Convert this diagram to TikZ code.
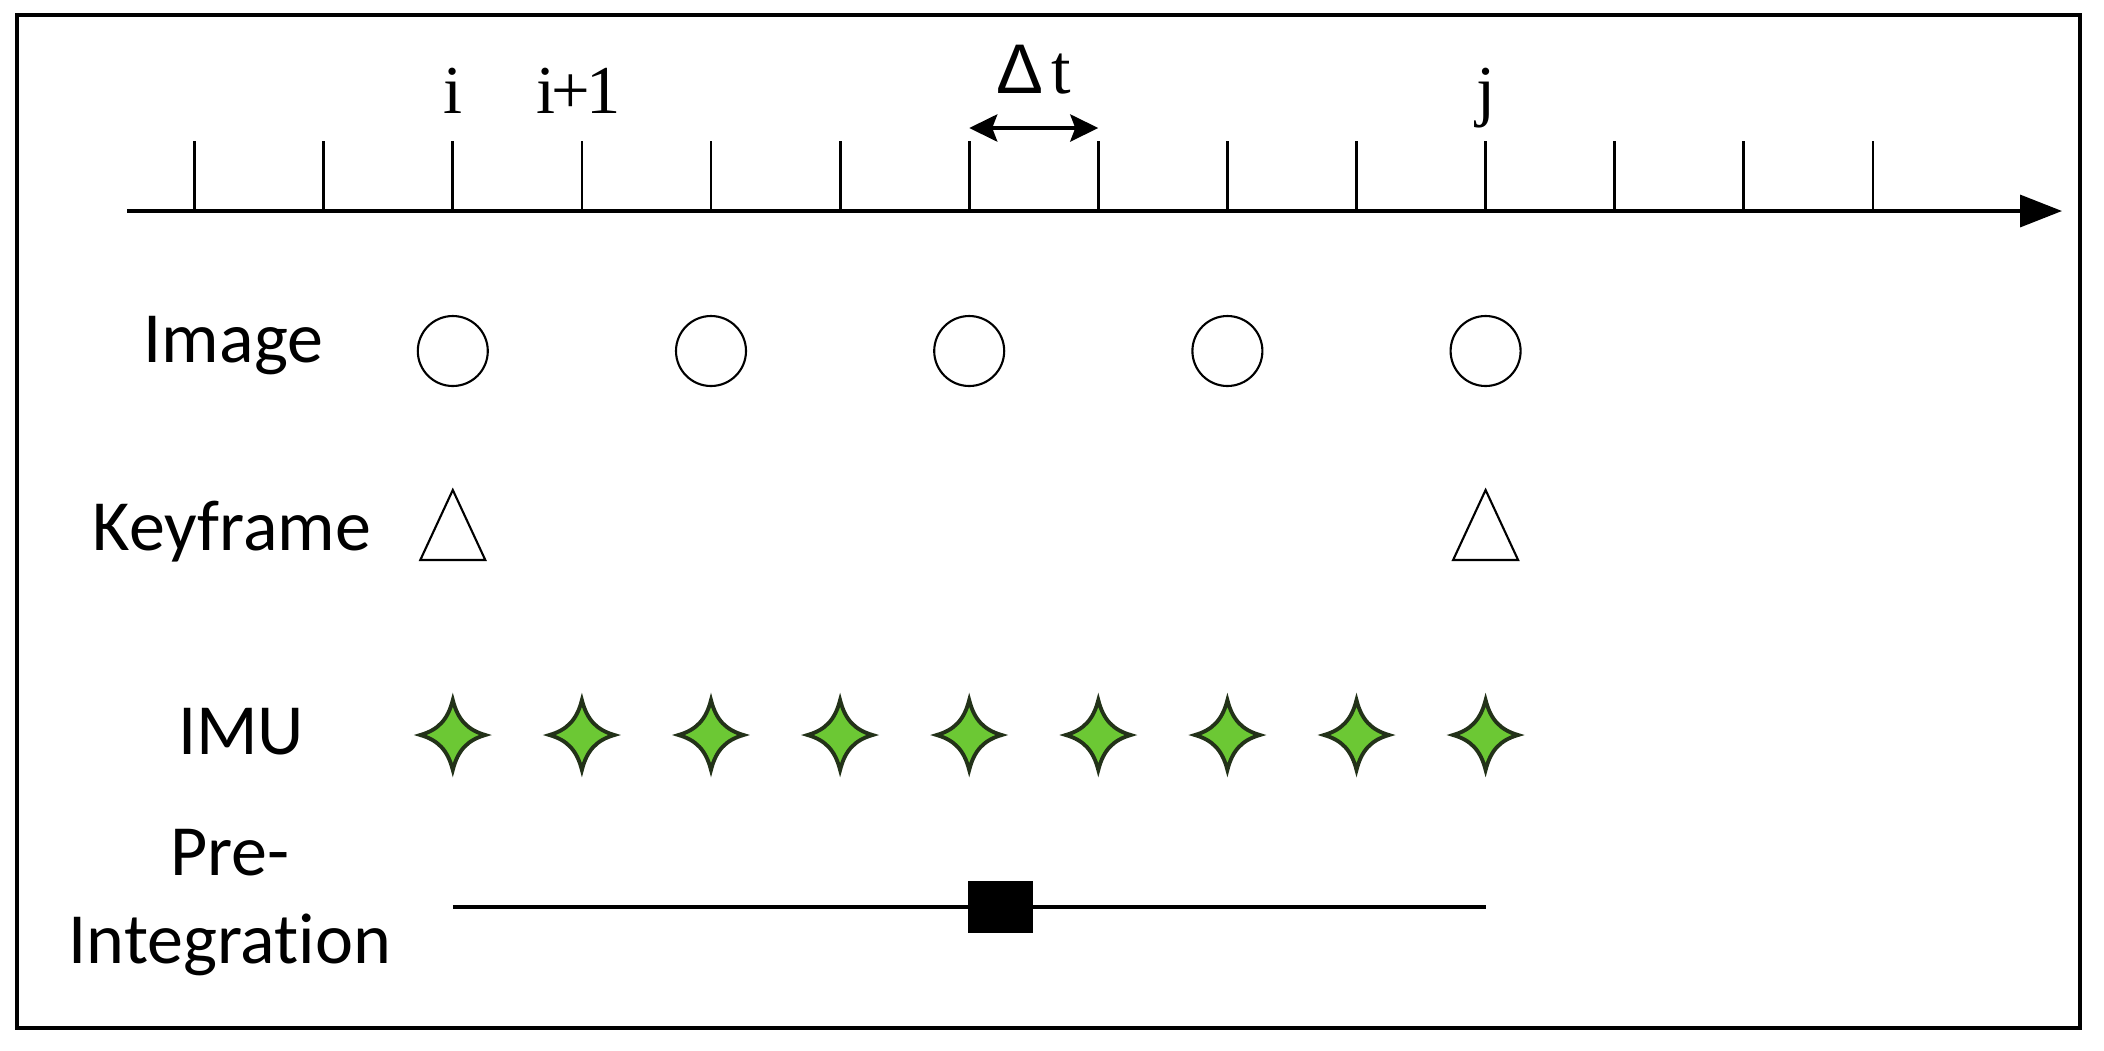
\documentclass[tikz,border=0pt]{standalone}
\usepackage{fontspec}
\setmainfont{Liberation Serif}
\newfontfamily\lblfont[Ligatures=NoCommon]{Carlito}
\newfontfamily\dtfont{Liberation Sans}
\usepackage{tikz}
\usetikzlibrary{arrows.meta, positioning}
\definecolor{imugreen}{RGB}{108,200,52}
\definecolor{imuedge}{RGB}{35,50,25}
\tikzset{>=stealth}
\tikzset{
  rowlabel/.style={font=\lblfont\fontsize{20.5}{24}\selectfont, anchor=base, inner sep=0pt},
  ticklabel/.style={font=\fontsize{19.5}{23}\selectfont, anchor=base, inner sep=0pt},
  tickln/.style={line width=0.8pt},
  imgcirc/.style={circle, draw, line width=0.6pt, minimum size=0.70cm, inner sep=0pt},
  keytri/.style={draw, line width=0.6pt, line join=miter},
  imustar/.pic={\draw[fill=imugreen, draw=imuedge, line width=1.1pt] (0,0.35) .. controls (0.05,0.15) and (0.15,0.05) .. (0.325,0) .. controls (0.15,-0.05) and (0.05,-0.15) .. (0,-0.35) .. controls (-0.05,-0.15) and (-0.15,-0.05) .. (-0.325,0) .. controls (-0.15,0.05) and (-0.05,0.15) .. cycle;},
}

\begin{document}
\begin{tikzpicture}[>=stealth]
        \useasboundingbox (0,0) rectangle (21.04,-10.50);
        \draw[line width=1.4pt] (0.17,-0.15) rectangle (20.80,-10.28);

        % time axis
        \coordinate (axs) at (1.27,-2.11);
        \coordinate (axe) at (20.62,-2.11);
        \draw[-{Triangle[length=0.42cm,width=0.32cm]}, line width=1pt] (axs)--(axe);
        \draw[tickln](1.946,-2.11)--(1.946,-1.41);
        \draw[tickln](3.237,-2.11)--(3.237,-1.41);
        \draw[tickln](4.528,-2.11)--(4.528,-1.41);
        \draw[tickln](5.819,-2.11)--(5.819,-1.41);
        \draw[tickln](7.110,-2.11)--(7.110,-1.41);
        \draw[tickln](8.401,-2.11)--(8.401,-1.41);
        \draw[tickln](9.692,-2.11)--(9.692,-1.41);
        \draw[tickln](10.983,-2.11)--(10.983,-1.41);
        \draw[tickln](12.274,-2.11)--(12.274,-1.41);
        \draw[tickln](13.565,-2.11)--(13.565,-1.41);
        \draw[tickln](14.856,-2.11)--(14.856,-1.41);
        \draw[tickln](16.147,-2.11)--(16.147,-1.41);
        \draw[tickln](17.438,-2.11)--(17.438,-1.41);
        \draw[tickln](18.729,-2.11)--(18.729,-1.41);
        \draw (4.528,-1.13) node[ticklabel] (li) {i};
        \draw (5.785,-1.13) node[ticklabel] (lii) {i\kern-0.06em+\kern-0.06em1};
        \draw (14.856,-1.13) node[ticklabel] (lj) {j};
        \draw (10.335,-0.93) node[anchor=base, inner sep=0pt, font=\dtfont\fontsize{20}{24}\selectfont] (ldt) {Δ\kern0.12em{\rmfamily t}};
        \coordinate (dtl) at (9.692,-1.28);
        \coordinate (dtr) at (10.983,-1.28);
        \draw[{Stealth[length=0.28cm,width=0.27cm,inset=0.05cm]}-{Stealth[length=0.28cm,width=0.27cm,inset=0.05cm]}, line width=1.2pt] (dtl)--(dtr);

        % image row
        \draw (2.335,-3.62) node[rowlabel] (limg) {Image};
        \node[imgcirc] (img1) at (4.528,-3.51) {};
        \node[imgcirc] (img2) at (7.110,-3.51) {};
        \node[imgcirc] (img3) at (9.692,-3.51) {};
        \node[imgcirc] (img4) at (12.274,-3.51) {};
        \node[imgcirc] (img5) at (14.856,-3.51) {};

        % keyframe row
        \draw (2.32,-5.50) node[rowlabel] (lkey) {Keyframe};
        \draw[keytri] (4.528,-4.90)--(4.203,-5.60)--(4.853,-5.60)--cycle;
        \draw[keytri] (14.856,-4.90)--(14.531,-5.60)--(15.181,-5.60)--cycle;

        % imu row
        \draw (2.41,-7.54) node[rowlabel] (limu) {IMU};
        \pic at (4.528,-7.35) {imustar};
        \pic at (5.819,-7.35) {imustar};
        \pic at (7.110,-7.35) {imustar};
        \pic at (8.401,-7.35) {imustar};
        \pic at (9.692,-7.35) {imustar};
        \pic at (10.983,-7.35) {imustar};
        \pic at (12.274,-7.35) {imustar};
        \pic at (13.565,-7.35) {imustar};
        \pic at (14.856,-7.35) {imustar};

        % pre-integration row
        \draw (2.30,-8.75) node[rowlabel] (lpre) {Pre-};
        \node[rowlabel] (lint) [below=0.88cm of lpre.base, anchor=base] {Integration};
        \coordinate (pis) at (4.528,-9.07);
        \coordinate (pie) at (14.856,-9.07);
        \draw[line width=1.1pt] (pis)--(pie);
        \node[fill=black, minimum width=0.65cm, minimum height=0.52cm, inner sep=0pt] (pisq) at (10.005,-9.07) {};
\end{tikzpicture}
\end{document}
